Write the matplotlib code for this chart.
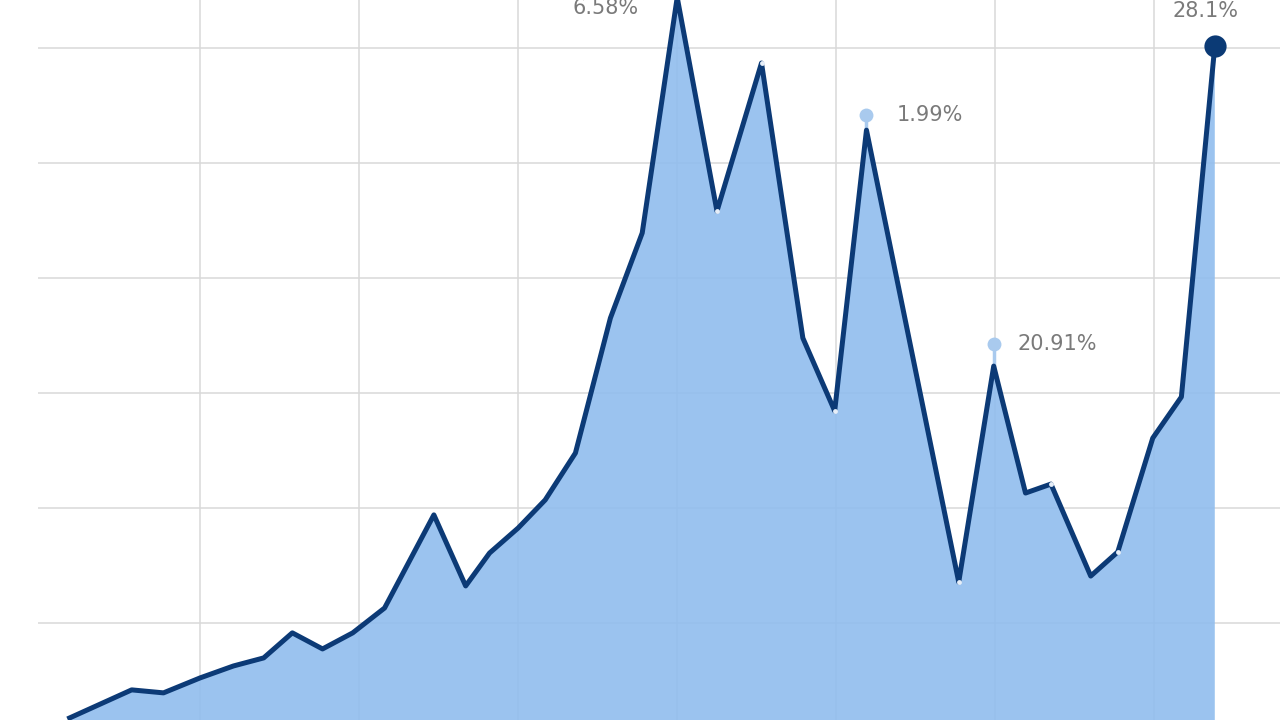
import numpy as np
import matplotlib.pyplot as plt

# series (x in grid units, y in percent-like units)
x_vals = [0.18, 0.57, 0.77, 1.00, 1.21, 1.40, 1.58, 1.77, 1.96, 2.16,
          2.47, 2.67, 2.82, 3.00, 3.17, 3.36, 3.58, 3.78, 4.00, 4.25,
          4.53, 4.79, 4.99, 5.19, 5.77, 5.99, 6.19, 6.35, 6.60, 6.77,
          6.99, 7.17, 7.38]
y_vals = [0.87, 2.09, 1.96, 2.61, 3.13, 3.48, 4.57, 3.87, 4.57, 5.65,
          9.70, 6.61, 8.04, 9.13, 10.35, 12.39, 18.26, 21.96, 32.2, 22.91,
          29.35, 17.39, 14.22, 26.43, 6.78, 16.17, 10.65, 11.04, 7.04, 8.09,
          13.04, 14.83, 30.09]

# small light vertex markers
tick_idx = [19, 20, 22, 24, 27, 29]

# highlighted points (light dots above the line)
hi_idx = [23, 25]
hi_y = [27.09, 17.13]

labels = ["6.58%", "1.99%", "20.91%", "28.1%"]
label_x = [3.76, 5.38, 6.14, 7.32]
label_y = [31.75, 27.09, 17.13, 31.6]
label_ha = ["right", "left", "left", "center"]

grid_x = [1, 2, 3, 4, 5, 6, 7]
grid_y = [5, 10, 15, 20, 25, 30]

fig = plt.figure(figsize=(12.8, 7.2), dpi=100)
ax = fig.add_axes([38 / 1280, 0, 1242 / 1280, 1])
ax.set_xlim(-0.019, 7.79)
ax.set_ylim(0.78, 32.09)

for g in grid_x:
    ax.axvline(g, color="#d9d9d9", lw=1.1, zorder=0)
for g in grid_y:
    ax.axhline(g, color="#d9d9d9", lw=1.1, zorder=0)

ax.fill_between(x_vals, y_vals, 0, color="#90bdee", alpha=0.9, lw=0, zorder=1)
ax.plot(x_vals, y_vals, color="#0c3a76", lw=3.6, solid_joinstyle="round", zorder=3)

ax.plot([x_vals[i] for i in tick_idx], [y_vals[i] for i in tick_idx], "o",
        ms=3.5, color="#e6eef8", mec="none", zorder=4)
for i, hy in zip(hi_idx, hi_y):
    ax.plot([x_vals[i], x_vals[i]], [y_vals[i], hy], color="#a9caee", lw=2.5, zorder=2)
ax.plot([x_vals[i] for i in hi_idx], hi_y, "o", ms=10, color="#a9caee", mec="none", zorder=4)
ax.plot(x_vals[-1], y_vals[-1], "o", ms=16, color="#0b3a75", mec="none", zorder=5)

for lx, ly, lab, ha in zip(label_x, label_y, labels, label_ha):
    ax.text(lx, ly, lab, ha=ha, va="center", fontsize=15, color="#7a7a7a", zorder=6)

for s in ax.spines.values():
    s.set_visible(False)
ax.set_xticks([])
ax.set_yticks([])

plt.savefig("out.png", dpi=100)
